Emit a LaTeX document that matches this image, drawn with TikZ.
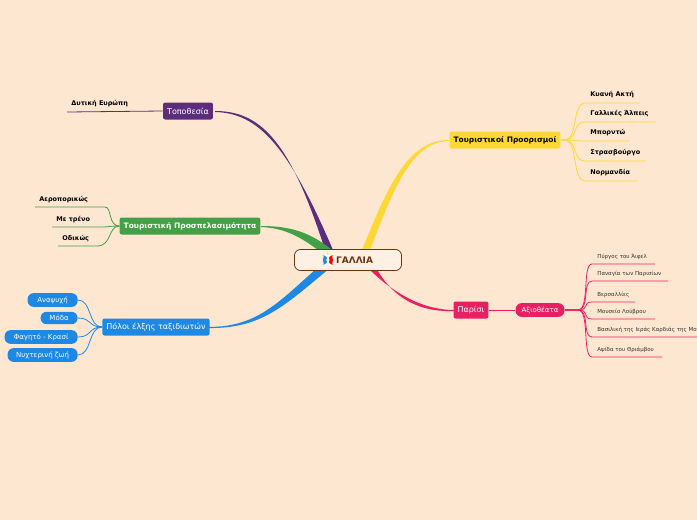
\documentclass[tikz,border=0pt]{standalone}
\usepackage{fontspec}
\setmainfont{DejaVu Sans}
\begin{document}
\begin{tikzpicture}[x=1pt,y=-1pt,line width=0.8pt,
  box/.style={rounded corners=2pt,text=white,font=\fontsize{8}{9}\selectfont,inner xsep=4pt,minimum height=17pt},
  pill/.style={rounded corners=6pt,text=white,fill=blue1,font=\fontsize{7}{8}\selectfont,minimum height=12pt,inner xsep=6pt},
  lab/.style={font=\bfseries\fontsize{6.5}{7}\selectfont,anchor=west,inner sep=1pt},
  lab2/.style={font=\fontsize{5.5}{6}\selectfont,anchor=west,inner sep=1pt,text=black!80}]
\definecolor{bg}{HTML}{FEE7D0}
\definecolor{purp}{HTML}{5C2D7A}
\definecolor{grn}{HTML}{43A047}
\definecolor{blue1}{HTML}{1E88E5}
\definecolor{yel}{HTML}{FDD835}
\definecolor{pnk}{HTML}{E91E63}
\definecolor{brn}{HTML}{6B3410}
\fill[bg] (0,0) rectangle (697,520);
\useasboundingbox (0,0) rectangle (697,520);
% branches
\fill[purp] (325,250) .. controls (290,140) and (260,111) .. (215,111) -- (215,112) .. controls (258,113) and (288,145) .. (333,250) -- cycle;
\fill[grn] (332,250) .. controls (310,232) and (290,226) .. (261,226) -- (261,227) .. controls (288,228) and (305,240) .. (326,256) -- cycle;
\fill[blue1] (324,262) .. controls (280,300) and (260,327) .. (208,327) -- (208,328) .. controls (262,329) and (285,305) .. (330,268) -- cycle;
\fill[yel] (362,250) .. controls (390,180) and (410,140) .. (449,140) -- (449,141) .. controls (412,142) and (395,185) .. (370,250) -- cycle;
\fill[pnk] (368,268) .. controls (400,300) and (430,310) .. (454,310) -- (454,311) .. controls (428,312) and (395,305) .. (374,264) -- cycle;
% center
\node[draw=brn,fill=bg!60!white,rounded corners=6pt,minimum width=107pt,minimum height=21pt,font=\bfseries\fontsize{9}{10}\selectfont,text=brn] (c) at (348,260) {\tikz[x=1pt,y=1pt,baseline=-3pt]{\fill[white] (0,0) circle (5); \fill[blue1] (0,-5) arc (-90:-270:5) -- cycle; \fill[red] (0,5) arc (90:-90:5) -- (0,2) -- cycle; \fill[white] (-1.5,-5) rectangle (1.5,5);}\ ΓΑΛΛΙΑ};
% main nodes
\node[box,fill=purp] (t) at (188,111) {Τοποθεσία};
\node[box,fill=grn,font=\bfseries\fontsize{7.5}{9}\selectfont] (g) at (190,226) {Τουριστική Προσπελασιμότητα};
\node[box,fill=blue1] (b) at (156,327) {Πόλοι έλξης ταξιδιωτών};
\node[box,fill=yel,text=black,font=\bfseries\fontsize{7.5}{9}\selectfont] (y) at (505,140) {Τουριστικοί Προορισμοί};
\node[box,fill=pnk] (p) at (471,310) {Παρίσι};
\node[pill,fill=pnk] (a) at (540,310) {Αξιοθέατα};
\draw[pnk] (p.east) -- (a.west);
% purple child
\node[lab] (t1) at (70,104) {Δυτική Ευρώπη};
\draw[purp] (67,112) -- (t.west);
% green children
\foreach \n/\txt/\yy/\xa/\xb in {g1/Αεροπορικώς/199/35/105, g2/Με τρένο/219/52/100, g3/Οδικώς/238/58/97}{
  \node[lab,anchor=south west] (\n) at (\xa+3,\yy+5) {\txt};
  \draw[grn] (\xa,\yy+8) -- (\xb,\yy+8) .. controls (112,\yy+8) and (108,226) .. (g.west);
}
% blue children
\foreach \n/\txt/\yy/\w in {b1/Αναψυχή/300/50, b2/Μόδα/318/37, b3/Φαγητό - Κρασί/337/73, b4/Νυχτερινή ζωή/355/70}{
  \node[pill,minimum width=\w pt,anchor=east,inner xsep=2pt] (\n) at (78,\yy) {\txt};
  \draw[blue1] (\n.east) .. controls (92,\yy) and (88,327) .. (b.west);
}
% yellow children
\foreach \n/\txt/\yy/\xb in {y1/Κυανή Ακτή/95/640, y2/Γαλλικές Άλπεις/114/656, y3/Μπορντώ/133/630, y4/Στρασβούργο/153/646, y5/Νορμανδία/173/637}{
  \node[lab,anchor=south west] (\n) at (589,\yy+4) {\txt};
  \draw[yel] (y.east) -- (565,140) .. controls (578,140) and (572,\yy+8) .. (585,\yy+8) -- (\xb,\yy+8);
}
% pink children
\foreach \n/\txt/\yy/\xb in {p1/Πύργος του Άιφελ/258/655, p2/Παναγία των Παρισίων/275/668, p3/Βερσαλλίες/296/635, p4/Μουσείο Λούβρου/313/655, p5/Βασιλική της Ιεράς Καρδιάς της Μονμάρτης/331/697, p6/Αψίδα του Θριάμβου/351/662}{
  \node[lab2,anchor=south west] (\n) at (596,\yy+3) {\txt};
  \draw[pnk] (a.east) -- (578,310) .. controls (590,310) and (582,\yy+6) .. (592,\yy+6) -- (\xb,\yy+6);
}
\end{tikzpicture}
\end{document}
